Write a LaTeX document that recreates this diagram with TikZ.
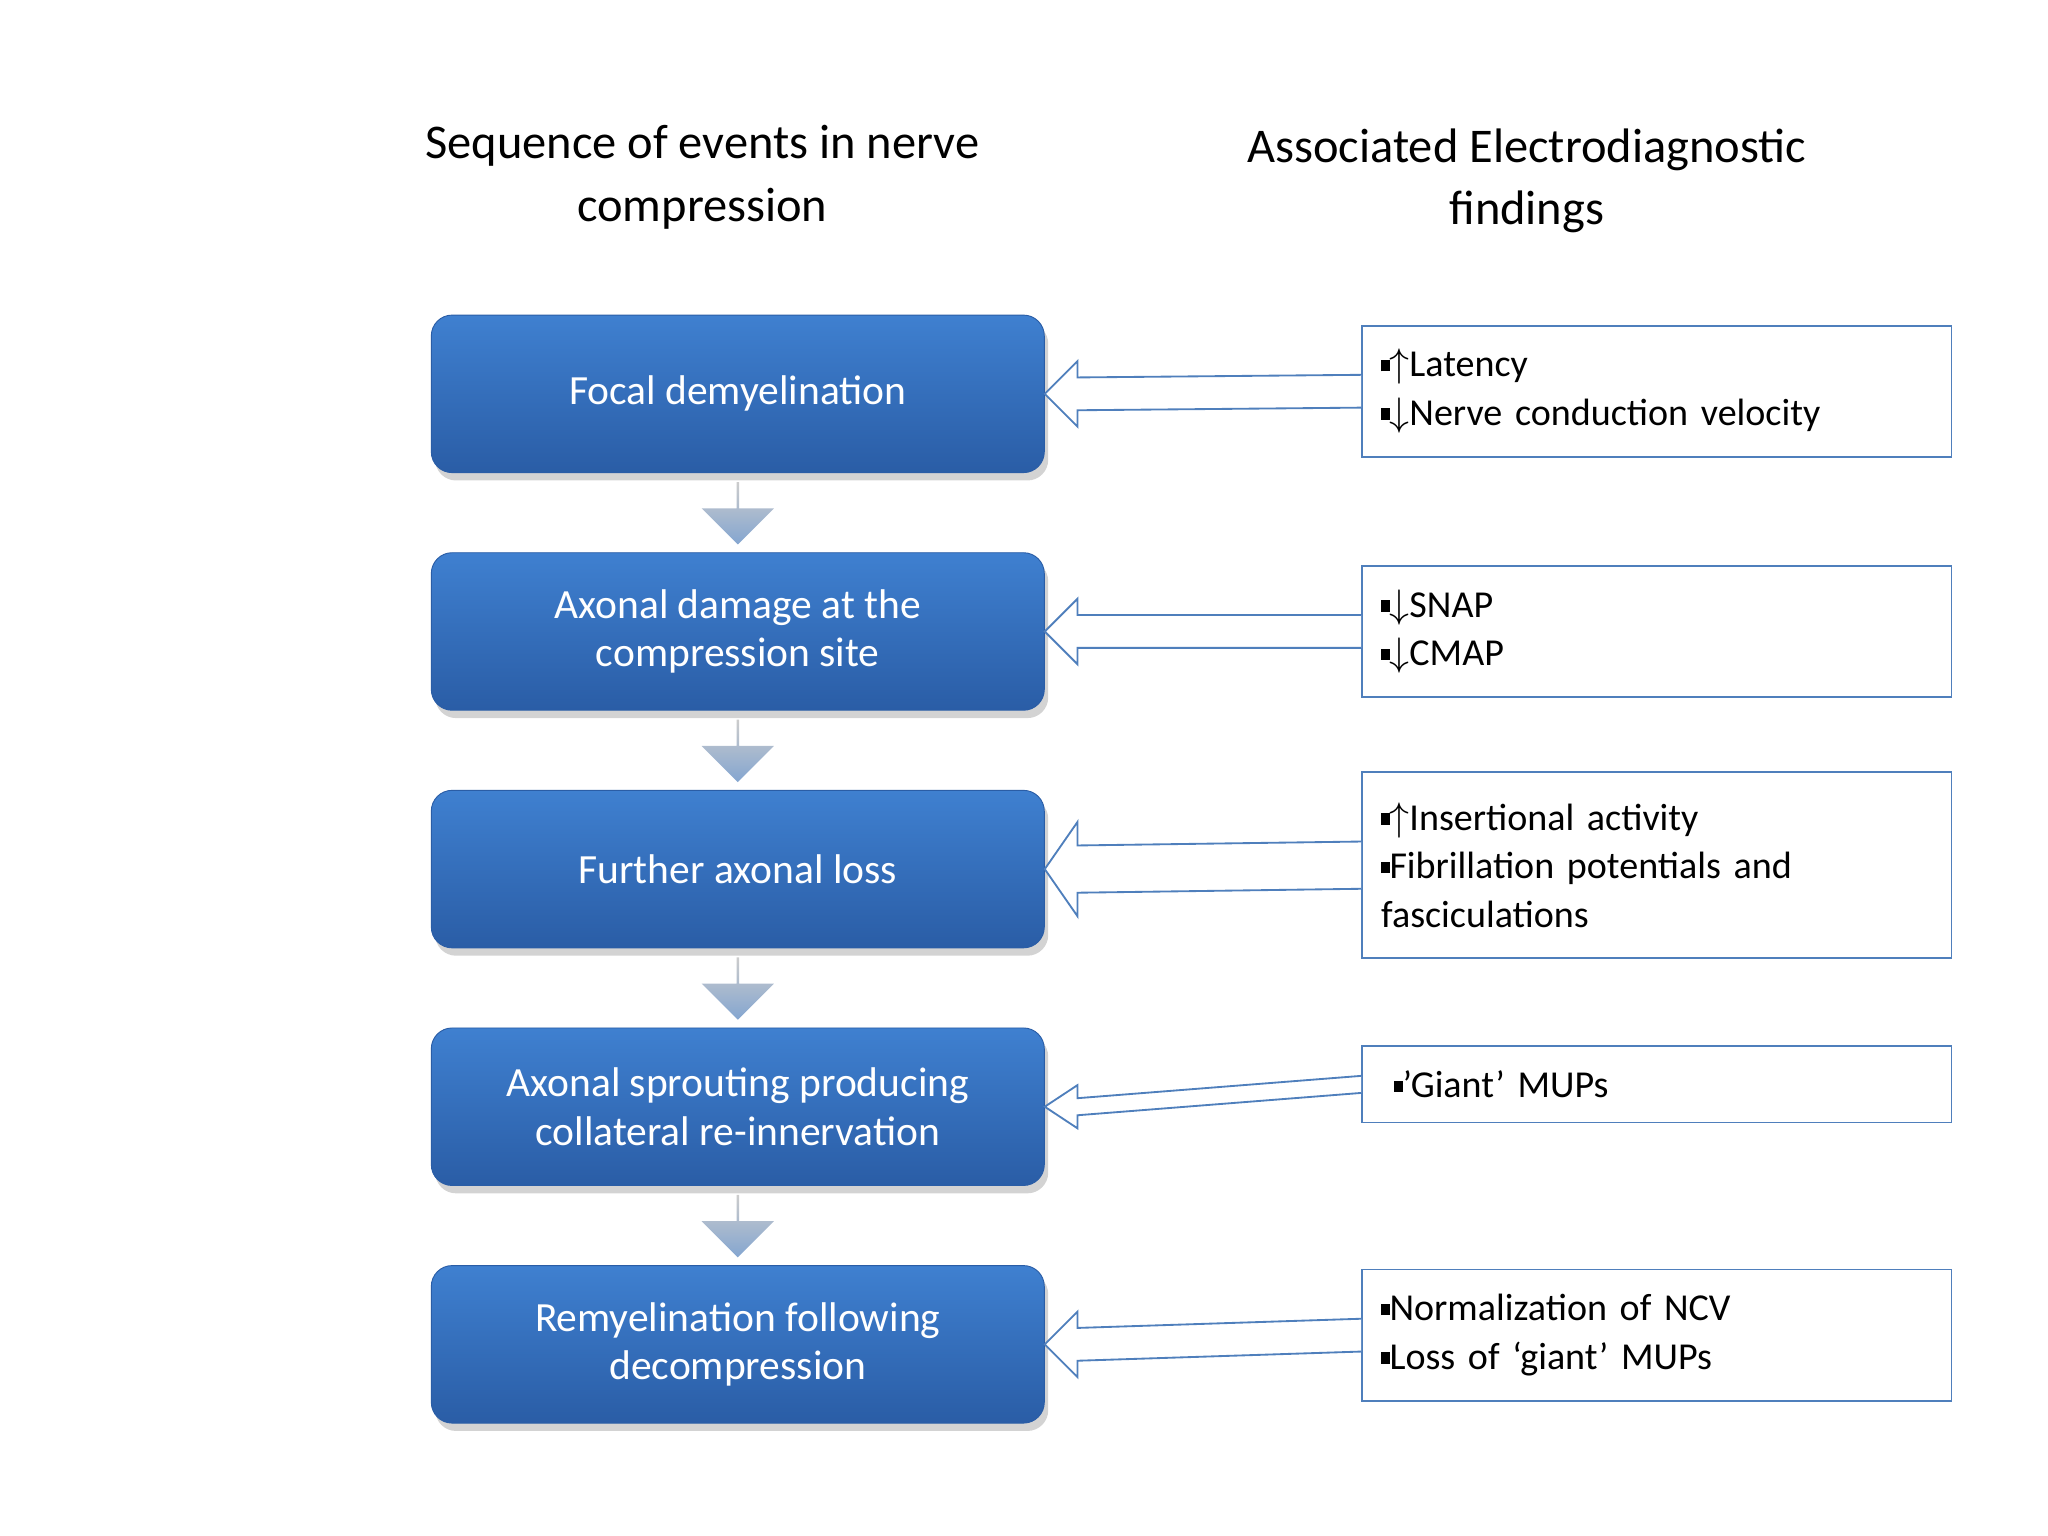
\documentclass[tikz,border=0pt]{standalone}
\usepackage{fontspec}
\setmainfont{Carlito}
\usetikzlibrary{positioning,calc,shapes.arrows,shadows}
\definecolor{boxtop}{HTML}{3F80D0}
\definecolor{boxbot}{HTML}{2A5DA6}
\definecolor{frameblue}{HTML}{4F7FBC}
\tikzset{
  stage/.style={rounded corners=9pt, minimum width=9.34cm, minimum height=2.4cm,
    top color=boxtop, bottom color=boxbot, draw=boxbot, text=white,
    font=\fontsize{18}{21}\selectfont, align=center,
    drop shadow={shadow xshift=0.6mm, shadow yshift=-1.2mm, opacity=0.35}},
  find/.style={draw=frameblue, thick, minimum width=8.98cm, align=left,
    text width=8.4cm, font=\fontsize{16.5}{21}\selectfont},
  down/.style={single arrow, rotate=270, minimum height=0.95cm, minimum width=1.1cm,
    single arrow head extend=0.2cm, inner sep=0pt, top color=gray!40, bottom color=frameblue!70, draw=none},
  head/.style={font=\fontsize{21}{27}\selectfont, align=center}
}
\newcommand{\bul}{\rule[0.15em]{0.22em}{0.3em}}
\newcommand{\hollow}[4]{% from, to, shaft, head
  \draw[frameblue, thick, fill=white]
    ($(#1.west)+(0cm,#3cm)$) -- ($(#2.east)+(0.5cm,#3cm)$) -- ($(#2.east)+(0.5cm,#4cm)$) -- (#2.east)
    -- ($(#2.east)+(0.5cm,-#4cm)$) -- ($(#2.east)+(0.5cm,-#3cm)$) -- ($(#1.west)+(0cm,-#3cm)$);}
\begin{document}
\begin{tikzpicture}[x=0.02cm,y=-0.02cm]
\useasboundingbox (0,0) rectangle (1560,1170);
\node[head] (h1) at (535,135) {Sequence of events in nerve\\compression};
\node[head] (h2) at (1163,138) {Associated Electrodiagnostic\\findings};

\node[stage] (s1) at (562,300) {Focal demyelination};
\node[stage] (s2) at (562,481) {Axonal damage at the\\compression site};
\node[stage] (s3) at (562,662) {Further axonal loss};
\node[stage] (s4) at (562,843) {Axonal sprouting producing\\collateral re-innervation};
\node[stage] (s5) at (562,1024) {Remyelination following\\decompression};

\foreach \a/\b in {s1/s2,s2/s3,s3/s4,s4/s5}
  \node[down] at ($(\a.south)!0.5!(\b.north)$) {};

\node[find, minimum height=2cm] (f1) at (1262,298) {\bul$\uparrow$Latency\\\bul$\downarrow$Nerve conduction velocity};
\node[find, minimum height=2cm] (f2) at (1262,481) {\bul$\downarrow$SNAP\\\bul$\downarrow$CMAP};
\node[find, minimum height=2.84cm] (f3) at (1262,659) {\bul$\uparrow$Insertional activity\\\bul Fibrillation potentials and\\fasciculations};
\node[find, minimum height=1.16cm] (f4) at (1262,826) {\hspace{0.2cm}\bul’Giant’ MUPs};
\node[find, minimum height=2cm] (f5) at (1262,1017) {\bul Normalization of NCV\\\bul Loss of ‘giant’ MUPs};

\hollow{f1}{s1}{0.25}{0.5}
\hollow{f2}{s2}{0.25}{0.5}
\hollow{f3}{s3}{0.36}{0.72}
\hollow{f4}{s4}{0.13}{0.33}
\hollow{f5}{s5}{0.25}{0.5}
\end{tikzpicture}
\end{document}
